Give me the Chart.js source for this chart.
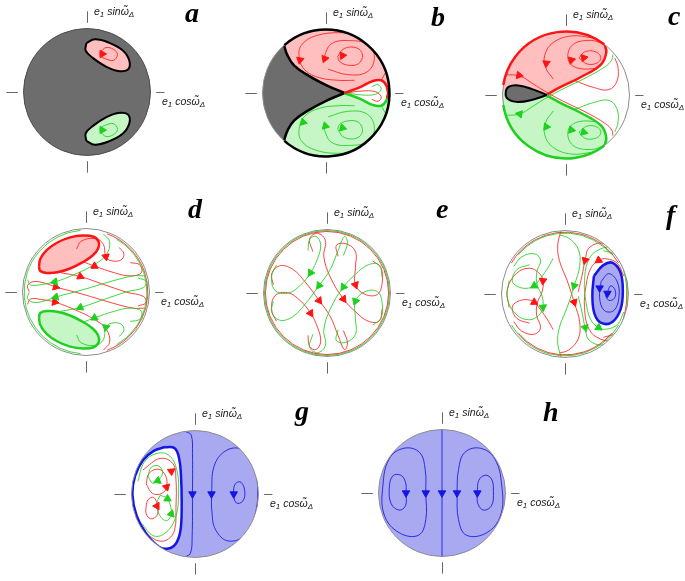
<!DOCTYPE html>
<html>
<head>
<meta charset="utf-8">
<title>phase portraits a-h</title>
<script src="https://cdn.jsdelivr.net/npm/chart.js@4.4.1/dist/chart.umd.min.js"></script>
<style>
  body { margin: 0; background: #fff; }
  #page { position: relative; width: 685px; height: 581px; overflow: hidden; font-family: "Liberation Sans", Arial, sans-serif; }
  .pane { position: absolute; width: 182px; height: 182px; }
  .lab { position: absolute; font-size: 10.5px; line-height: 12px; color: #1a1a1a; white-space: nowrap; font-style: italic; }
  .lab sub { font-size: 8px; line-height: 0; vertical-align: -2px; }
  .let { position: absolute; font: bold italic 28px/28px "Liberation Serif", "Times New Roman", serif; color: #000; }
</style>
</head>
<body>
<div id="page"></div>
<script>
// all curves in units of the disk radius (e1 cos w, e1 sin w)

// a
const aRedBlob = [[-0.01,0.77],[0.12,0.83],[0.34,0.78],[0.57,0.65],[0.67,0.48],[0.64,0.35],[0.49,0.33],[0.30,0.40],[0.10,0.53],[-0.02,0.65]];
const aRedLoop = [[0.21,0.63],[0.30,0.70],[0.42,0.67],[0.48,0.59],[0.42,0.50],[0.30,0.52],[0.21,0.57]];
const aGrnBlob = [[-0.01,-0.77],[0.12,-0.83],[0.34,-0.78],[0.57,-0.65],[0.67,-0.48],[0.64,-0.35],[0.49,-0.33],[0.30,-0.40],[0.10,-0.53],[-0.02,-0.65]];
const aGrnLoop = [[0.21,-0.63],[0.30,-0.70],[0.42,-0.67],[0.48,-0.59],[0.42,-0.50],[0.30,-0.52],[0.21,-0.57]];
const aRedHeads = [[0.24,0.6]], aRedDir = [210];
const aGrnHeads = [[0.24,-0.6]], aGrnDir = [330];

// b
const bSepUp = [[-0.66,0.75],[-0.61,0.6],[-0.5,0.43],[-0.27,0.27],[0.01,0.12],[0.29,0.0]];
const bSepDn = [[-0.66,-0.75],[-0.61,-0.6],[-0.5,-0.43],[-0.27,-0.27],[0.01,-0.12],[0.29,0.0]];
const bRedEdge = [[0.29,0.0],[0.53,0.09],[0.74,0.19],[0.87,0.2],[0.95,0.12],[0.98,0.0],[0.96,-0.08]];
const bGrnEdge = [[0.29,0.0],[0.53,-0.09],[0.74,-0.19],[0.87,-0.2],[0.95,-0.12],[0.98,0.0],[0.96,0.08]];
const bPink = [[-1.0,1.2],[-0.66,0.75],[-0.61,0.6],[-0.5,0.43],[-0.27,0.27],[0.01,0.12],[0.29,0.0],[0.53,0.09],[0.74,0.19],[0.87,0.2],[0.95,0.12],[0.99,0.02],[1.3,0.02],[1.3,1.3],[-1.0,1.3]];
const bGreen = [[-1.0,-1.2],[-0.66,-0.75],[-0.61,-0.6],[-0.5,-0.43],[-0.27,-0.27],[0.01,-0.12],[0.29,0.0],[0.53,-0.09],[0.74,-0.19],[0.87,-0.2],[0.95,-0.12],[0.99,-0.02],[1.3,-0.02],[1.3,-1.3],[-1.0,-1.3]];
const bLens = [[0.29,0],[0.53,0.09],[0.74,0.19],[0.87,0.2],[0.95,0.12],[0.98,0],[0.95,-0.12],[0.87,-0.2],[0.74,-0.19],[0.53,-0.09]];
const bRedIn = [[0.33,0.0],[0.55,0.03],[0.78,0.02],[0.87,-0.06],[0.82,-0.13],[0.72,-0.1]];
const bGrnIn = [[0.33,0.0],[0.55,-0.03],[0.78,-0.02],[0.87,0.06],[0.82,0.13],[0.72,0.1]];
const bRed1 = [[0.185,0.575],[0.285,0.70],[0.485,0.71],[0.575,0.60],[0.51,0.46],[0.335,0.44],[0.21,0.50]];
const bRed2 = [[-0.04,0.55],[0.085,0.775],[0.385,0.825],[0.685,0.75],[0.76,0.525],[0.635,0.325],[0.335,0.29],[0.035,0.375]];
const bRed3 = [[0.885,0.225],[0.96,0.40],[0.91,0.70],[0.685,0.90],[0.235,0.95],[-0.165,0.90],[-0.39,0.75],[-0.42,0.55],[-0.33,0.36],[-0.1,0.24],[0.2,0.2],[0.45,0.2]];
const bGrn1 = [[0.185,-0.575],[0.285,-0.70],[0.485,-0.71],[0.575,-0.60],[0.51,-0.46],[0.335,-0.44],[0.21,-0.50]];
const bGrn2 = [[-0.04,-0.55],[0.085,-0.775],[0.385,-0.825],[0.685,-0.75],[0.76,-0.525],[0.635,-0.325],[0.335,-0.29],[0.035,-0.375]];
const bGrn3 = [[0.885,-0.225],[0.96,-0.40],[0.91,-0.70],[0.685,-0.90],[0.235,-0.95],[-0.165,-0.90],[-0.39,-0.75],[-0.42,-0.55],[-0.33,-0.36],[-0.1,-0.24],[0.2,-0.2],[0.45,-0.2]];
const bRedHeads = [[-0.41,0.52],[-0.02,0.54],[0.26,0.59]], bRedDir = [190,200,205];
const bGrnHeads = [[-0.36,-0.46],[-0.01,-0.52],[0.26,-0.55]], bGrnDir = [225,225,225];

// c
const cPink = [[-0.30,0.01],[-0.06,0.14],[0.23,0.28],[0.55,0.48],[0.635,0.675],[0.60,0.82],[0.75,1.3],[-1.3,1.3],[-1.3,0.0],[-0.6,0.0]];
const cGreen = [[-0.30,-0.01],[-0.06,-0.14],[0.23,-0.28],[0.55,-0.48],[0.635,-0.675],[0.60,-0.82],[0.75,-1.3],[-1.3,-1.3],[-1.3,0.0],[-0.6,0.0]];
const cRedEdge = [[-0.30,0.01],[-0.06,0.14],[0.23,0.28],[0.55,0.48],[0.635,0.675],[0.60,0.82]];
const cGrnEdge = [[-0.30,-0.01],[-0.06,-0.14],[0.23,-0.28],[0.55,-0.48],[0.635,-0.675],[0.60,-0.82]];
const cBlob = [[-0.30,0.0],[-0.51,0.085],[-0.75,0.15],[-0.90,0.13],[-0.95,0.04],[-0.92,-0.06],[-0.76,-0.11],[-0.51,-0.07]];
const cRed1 = [[0.205,0.586],[0.305,0.685],[0.48,0.675],[0.55,0.586],[0.48,0.50],[0.33,0.49]];
const cRed2 = [[0.5,0.42],[0.2,0.42],[0.04,0.54],[0.085,0.77],[0.33,0.86],[0.58,0.80],[0.63,0.68]];
const cRed3 = [[-0.2,0.25],[-0.32,0.43],[-0.335,0.625],[-0.21,0.82],[0.085,0.93],[0.43,0.90]];
const cRedDiag = [[-0.95,0.32],[-0.73,0.30],[-0.51,0.17],[-0.30,0.04],[-0.02,-0.11],[0.33,-0.28],[0.62,-0.45],[0.72,-0.55],[0.74,-0.64]];
const cRedStrip = [[0.13,0.23],[0.43,0.12],[0.675,0.085],[0.80,0.21],[0.82,0.43],[0.77,0.58]];
const cGrn1 = [[0.205,-0.586],[0.305,-0.685],[0.48,-0.675],[0.55,-0.586],[0.48,-0.50],[0.33,-0.49]];
const cGrn2 = [[0.5,-0.42],[0.2,-0.42],[0.04,-0.54],[0.085,-0.77],[0.33,-0.86],[0.58,-0.80],[0.63,-0.68]];
const cGrn3 = [[-0.2,-0.25],[-0.32,-0.43],[-0.335,-0.625],[-0.21,-0.82],[0.085,-0.93],[0.43,-0.90]];
const cGrnDiag = [[-0.95,-0.32],[-0.73,-0.30],[-0.51,-0.17],[-0.30,-0.04],[-0.02,0.11],[0.33,0.28],[0.62,0.45],[0.72,0.55],[0.74,0.64]];
const cGrnStrip = [[0.13,-0.23],[0.43,-0.12],[0.675,-0.085],[0.80,-0.21],[0.82,-0.43],[0.77,-0.58]];
const cRedHeads = [[-0.31,0.50],[0.085,0.55],[0.28,0.586],[-0.74,0.31]], cRedDir = [185,195,200,100];
const cGrnHeads = [[-0.31,-0.50],[0.085,-0.55],[0.28,-0.586],[-0.73,-0.30]], cGrnDir = [215,220,225,280];

// d
const dPinkE = [[-0.74,0.40],[-0.72,0.52],[-0.62,0.66],[-0.45,0.78],[-0.25,0.86],[-0.05,0.89],[0.12,0.87],[0.2,0.79],[0.19,0.68],[0.1,0.57],[-0.05,0.47],[-0.25,0.37],[-0.45,0.31],[-0.62,0.30],[-0.72,0.33]];
const dGrnE = [[-0.74,-0.40],[-0.72,-0.52],[-0.62,-0.66],[-0.45,-0.78],[-0.25,-0.86],[-0.05,-0.89],[0.12,-0.87],[0.2,-0.79],[0.19,-0.68],[0.1,-0.57],[-0.05,-0.47],[-0.25,-0.37],[-0.45,-0.31],[-0.62,-0.30],[-0.72,-0.33]];
const dRa = [[-0.149,0.677],[-0.075,0.801],[0.149,0.841],[0.274,0.751],[0.313,0.557],[0.398,0.493],[0.547,0.502],[0.597,0.602],[0.522,0.701]];
const dRb = [[-0.05,0.478],[0.134,0.408],[0.448,0.303],[0.697,0.254],[0.871,0.303],[0.846,0.428],[0.697,0.463]];
const dRc = [[-0.398,0.303],[-0.09,0.244],[0.249,0.129],[0.647,-0.005],[0.905,-0.07],[0.945,-0.169],[0.821,-0.219]];
const dRd = [[-0.896,0.005],[-0.92,0.104],[-0.821,0.164],[-0.647,0.139],[-0.478,0.08],[-0.05,-0.035],[0.398,-0.169],[0.746,-0.254],[0.92,-0.254]];
const dRe = [[-0.92,-0.194],[-0.871,-0.109],[-0.697,-0.119],[-0.493,-0.159],[-0.199,-0.269],[0.149,-0.443],[0.323,-0.592],[0.373,-0.791],[0.274,-0.915]];
const dGa = [[-0.149,-0.677],[-0.075,-0.801],[0.149,-0.841],[0.274,-0.751],[0.313,-0.557],[0.398,-0.493],[0.547,-0.502],[0.597,-0.602],[0.522,-0.701]];
const dGb = [[-0.05,-0.478],[0.134,-0.408],[0.448,-0.303],[0.697,-0.254],[0.871,-0.303],[0.846,-0.428],[0.697,-0.463]];
const dGc = [[-0.398,-0.303],[-0.09,-0.244],[0.249,-0.129],[0.647,0.005],[0.905,0.07],[0.945,0.169],[0.821,0.219]];
const dGd = [[-0.896,-0.005],[-0.92,-0.104],[-0.821,-0.164],[-0.647,-0.139],[-0.478,-0.08],[-0.05,0.035],[0.398,0.169],[0.746,0.254],[0.92,0.254]];
const dGe = [[-0.92,0.194],[-0.871,0.109],[-0.697,0.119],[-0.493,0.159],[-0.199,0.269],[0.149,0.443],[0.323,0.592],[0.373,0.791],[0.274,0.915]];
const dRedHeads = [[0.313,0.557],[0.134,0.408],[-0.09,0.244],[-0.478,0.08],[-0.493,-0.159]], dRedDir = [170,120,115,105,100];
const dGrnHeads = [[0.313,-0.557],[0.134,-0.408],[-0.09,-0.244],[-0.478,-0.08],[-0.493,0.159]], dGrnDir = [190,240,245,255,260];

// e
const eR1 = [[-0.846,0.129],[-0.871,0.303],[-0.746,0.428],[-0.547,0.378],[-0.348,0.179],[-0.124,-0.119],[0.05,-0.368],[0.174,-0.667],[0.274,-0.891],[0.323,-0.791],[0.259,-0.592]];
const eR2 = [[-0.796,-0.443],[-0.871,-0.269],[-0.821,-0.045],[-0.622,0.005],[-0.423,-0.119],[-0.259,-0.318],[-0.149,-0.542],[-0.1,-0.766],[-0.174,-0.891],[-0.274,-0.841],[-0.299,-0.667]];
const eR3 = [[-0.224,0.652],[-0.274,0.851],[-0.149,0.94],[-0.025,0.826],[-0.05,0.577],[0.05,0.254],[0.259,-0.095],[0.448,-0.294],[0.647,-0.443],[0.821,-0.443],[0.871,-0.244]];
const eR4 = [[0.174,0.577],[0.149,0.751],[0.299,0.776],[0.448,0.652],[0.448,0.403],[0.448,0.129],[0.597,-0.02],[0.796,-0.02],[0.871,0.179],[0.846,0.403],[0.721,0.502]];
const eG1 = [[-0.846,-0.129],[-0.871,-0.303],[-0.746,-0.428],[-0.547,-0.378],[-0.348,-0.179],[-0.124,0.119],[0.05,0.368],[0.174,0.667],[0.274,0.891],[0.323,0.791],[0.259,0.592]];
const eG2 = [[-0.796,0.443],[-0.871,0.269],[-0.821,0.045],[-0.622,-0.005],[-0.423,0.119],[-0.259,0.318],[-0.149,0.542],[-0.1,0.766],[-0.174,0.891],[-0.274,0.841],[-0.299,0.667]];
const eG3 = [[-0.224,-0.652],[-0.274,-0.851],[-0.149,-0.94],[-0.025,-0.826],[-0.05,-0.577],[0.05,-0.254],[0.259,0.095],[0.448,0.294],[0.647,0.443],[0.821,0.443],[0.871,0.244]];
const eG4 = [[0.174,-0.577],[0.149,-0.751],[0.299,-0.776],[0.448,-0.652],[0.448,-0.403],[0.448,-0.129],[0.597,0.02],[0.796,0.02],[0.871,-0.179],[0.846,-0.403],[0.721,-0.502]];
const eRedHeads = [[-0.124,-0.119],[-0.259,-0.318],[0.259,-0.095],[0.448,0.129]], eRedDir = [144,147,144,161];
const eGrnHeads = [[-0.124,0.119],[-0.259,0.318],[0.259,0.095],[0.448,-0.129]], eGrnDir = [216,213,216,199];

// f
const fBlue = [[0.455,0.282],[0.604,0.455],[0.752,0.49],[0.876,0.332],[0.911,0.035],[0.876,-0.238],[0.752,-0.436],[0.579,-0.46],[0.465,-0.312],[0.431,-0.015]];
const fIn1 = [[0.57,0.2],[0.69,0.32],[0.82,0.2],[0.85,-0.05],[0.77,-0.26],[0.62,-0.26],[0.545,-0.06]];
const fIn2 = [[0.67,0.035],[0.72,0.13],[0.79,0.06],[0.78,-0.065],[0.69,-0.10],[0.64,-0.015]];
const fR1 = [[-0.881,-0.213],[-0.906,0.084],[-0.757,0.332],[-0.559,0.406],[-0.411,0.332],[-0.347,0.208],[-0.361,0.035],[-0.436,-0.139],[-0.446,-0.337],[-0.386,-0.535],[-0.485,-0.634],[-0.683,-0.584],[-0.807,-0.436]];
const fR2 = [[-0.188,-0.559],[-0.287,-0.386],[-0.411,-0.213],[-0.485,-0.129],[-0.609,-0.089],[-0.757,-0.124],[-0.832,-0.213],[-0.757,-0.386],[-0.559,-0.46]];
const fR3 = [[-0.064,0.99],[-0.114,0.777],[-0.089,0.53],[0.035,0.208],[0.144,-0.129],[0.233,-0.455],[0.208,-0.708],[0.059,-0.881],[-0.089,-0.931]];
const fR4 = [[0.208,0.035],[0.267,0.282],[0.317,0.53],[0.381,0.728],[0.604,0.802],[0.851,0.678],[0.95,0.431],[0.975,0.035],[0.926,-0.361],[0.802,-0.609],[0.604,-0.683]];
const fR5 = [[0.926,0.282],[0.827,0.48],[0.653,0.554],[0.53,0.53],[0.406,0.406],[0.332,0.134],[0.307,-0.213],[0.381,-0.559],[0.554,-0.708],[0.802,-0.757]];
const fG1 = [[-0.881,0.213],[-0.906,-0.084],[-0.757,-0.332],[-0.559,-0.406],[-0.411,-0.332],[-0.347,-0.208],[-0.361,-0.035],[-0.436,0.139],[-0.446,0.337],[-0.386,0.535],[-0.485,0.634],[-0.683,0.584],[-0.807,0.436]];
const fG2 = [[-0.188,0.559],[-0.287,0.386],[-0.411,0.213],[-0.485,0.129],[-0.609,0.089],[-0.757,0.124],[-0.832,0.213],[-0.757,0.386],[-0.559,0.46]];
const fG3 = [[-0.064,-0.99],[-0.114,-0.777],[-0.089,-0.53],[0.035,-0.208],[0.144,0.129],[0.233,0.455],[0.208,0.708],[0.059,0.881],[-0.089,0.931]];
const fG4 = [[0.208,-0.035],[0.267,-0.282],[0.317,-0.53],[0.381,-0.728],[0.604,-0.802],[0.851,-0.678],[0.95,-0.431],[0.975,-0.035],[0.926,0.361],[0.802,0.609],[0.604,0.683]];
const fG5 = [[0.926,-0.282],[0.827,-0.48],[0.653,-0.554],[0.53,-0.53],[0.406,-0.406],[0.332,-0.134],[0.307,0.213],[0.381,0.559],[0.554,0.708],[0.802,0.757]];
const fRedHeads = [[-0.347,0.208],[-0.485,-0.129],[0.317,0.53],[0.144,-0.129],[0.53,0.53]], fRedDir = [185,240,195,160,235];
const fGrnHeads = [[-0.347,-0.208],[-0.485,0.129],[0.317,-0.53],[0.144,0.129],[0.53,-0.53]], fGrnDir = [175,120,165,200,125];
const fBluHeads = [[0.545,0.094],[0.668,0.01]], fBluDir = [180,180];

// g
const gWhite = [[-0.47,0.74],[-0.32,0.72],[-0.25,0.56],[-0.22,0.28],[-0.21,-0.21],[-0.23,-0.58],[-0.30,-0.78],[-0.42,-0.86],[-0.57,-0.83],[-0.77,-0.62],[-0.92,-0.34],[-0.985,-0.015],[-0.945,0.28],[-0.82,0.53],[-0.65,0.68]];
const gVert = [[-0.15,0.985],[-0.06,0.93],[-0.04,0.635],[-0.04,-0.015],[-0.045,-0.665],[-0.07,-0.93],[-0.15,-0.99]];
const gBig = [[0.26,0.01],[0.30,0.435],[0.475,0.675],[0.725,0.71],[0.915,0.51],[0.985,0.135],[0.95,-0.315],[0.8,-0.64],[0.525,-0.74],[0.325,-0.565],[0.265,-0.265]];
const gSmall = [[0.6,0.01],[0.635,0.16],[0.725,0.185],[0.785,0.035],[0.75,-0.115],[0.65,-0.14]];
const gRedOut = [[-0.82,0.38],[-0.55,0.56],[-0.35,0.48],[-0.30,0.23],[-0.30,-0.21],[-0.32,-0.56],[-0.42,-0.71],[-0.57,-0.74],[-0.75,-0.64]];
const gRedL1 = [[-0.77,0.16],[-0.72,0.33],[-0.57,0.39],[-0.46,0.28],[-0.45,0.11],[-0.52,0.01],[-0.67,0.01]];
const gRedL2 = [[-0.77,-0.19],[-0.74,-0.09],[-0.65,-0.055],[-0.59,-0.19],[-0.6,-0.34],[-0.70,-0.39],[-0.77,-0.31]];
const gGrnOut = [[-0.9,0.2],[-0.8,0.5],[-0.6,0.64],[-0.4,0.6],[-0.28,0.35],[-0.26,0.0],[-0.3,-0.35],[-0.45,-0.6],[-0.65,-0.66],[-0.85,-0.45]];
const gGrnL1 = [[-0.74,0.28],[-0.69,0.42],[-0.57,0.44],[-0.51,0.33],[-0.587,0.209],[-0.67,0.17]];
const gGrnL2 = [[-0.55,-0.02],[-0.433,-0.075],[-0.373,-0.313],[-0.45,-0.42],[-0.56,-0.33],[-0.6,-0.15]];
const gRedHeads = [[-0.373,0.358],[-0.448,0.11],[-0.6,-0.19]], gRedDir = [175,165,150];
const gGrnHeads = [[-0.587,0.209],[-0.433,-0.075],[-0.373,-0.313]], gGrnDir = [10,0,20];
const gBluHeads = [[-0.04,0.0],[0.26,0.0],[0.61,0.0]], gBluDir = [180,180,180];

// h
const hVert = [[0,1],[0,-1]];
const hLeftBig = [[-0.255,0],[-0.265,0.37],[-0.355,0.64],[-0.6,0.705],[-0.83,0.54],[-0.93,0.125],[-0.91,-0.345],[-0.675,-0.625],[-0.37,-0.665],[-0.255,-0.42]];
const hLeftSmall = [[-0.565,0],[-0.575,0.17],[-0.65,0.28],[-0.775,0.27],[-0.83,0.075],[-0.8,-0.17],[-0.675,-0.27],[-0.575,-0.2]];
const hRightBig = [[0.235,0],[0.26,0.37],[0.36,0.64],[0.605,0.705],[0.83,0.54],[0.94,0.125],[0.925,-0.345],[0.705,-0.625],[0.385,-0.665],[0.26,-0.42]];
const hRightSmall = [[0.555,0],[0.58,0.2],[0.68,0.28],[0.78,0.22],[0.81,0.025],[0.78,-0.2],[0.655,-0.27],[0.565,-0.17]];
const hBluHeads = [[-0.567,0.0],[-0.256,0.0],[0,0.0],[0.236,0.0],[0.557,0.0]], hBluDir = [180,180,180,180,180];

// ---- styles ----
const GRAY = '#6d6d6d', PINK = '#ffbfbf', LGRN = '#c6f6c6', LBLU = '#a9a9f2';
const RED = '#ff1414', GRN = '#1fd01f', BLU = '#1515e6', BLK = '#000', RIM = '#8c8c8c';
const RED_T = 'rgba(255,20,20,0.8)', GRN_T = 'rgba(31,208,31,0.85)', BLU_T = 'rgba(21,21,230,0.85)';
const L = 1.35, SIZE = 182;

const pts = list => list.map(p => ({x: p[0], y: p[1]}));
const line = (list, color, w) => ({data: pts(list), borderColor: color, borderWidth: w || 1, tension: 0.4, fill: false, pointRadius: 0});
const loop = (list, color, w) => line(list.concat([list[0]]), color, w);
const area = (list, bg, color, w) => ({data: pts(list.concat([list[0]])), backgroundColor: bg, borderColor: color || 'rgba(0,0,0,0)', borderWidth: w || 0, tension: 0.4, fill: 'shape', pointRadius: 0});
const heads = (list, dir, color) => ({data: pts(list), showLine: false, pointStyle: 'triangle', pointRadius: 4.3, rotation: dir, backgroundColor: color, borderColor: color, borderWidth: 1});

// disk background, rim arcs and the four axis ticks, drawn through the scales
function diskPlugin(diskColor, rims) {
    return {
        id: 'disk',
        beforeDatasetsDraw(chart) {
            const {ctx, scales: {x, y}} = chart;
            const cx = x.getPixelForValue(0), cy = y.getPixelForValue(0);
            const r = x.getPixelForValue(1) - cx;
            ctx.save();
            ctx.beginPath();
            ctx.arc(cx, cy, r, 0, Math.PI * 2);
            ctx.fillStyle = diskColor;
            ctx.fill();
            ctx.clip();
        },
        afterDatasetsDraw(chart) {
            const {ctx, scales: {x, y}} = chart;
            ctx.restore();
            const cx = x.getPixelForValue(0), cy = y.getPixelForValue(0);
            const unit = x.getPixelForValue(1) - cx;
            rims.forEach(a => {
                ctx.beginPath();
                ctx.arc(cx, cy, unit * (a.r || 1), -a.from * Math.PI / 180, -a.to * Math.PI / 180, true);
                ctx.strokeStyle = a.color;
                ctx.lineWidth = a.width || 1;
                ctx.stroke();
            });
            ctx.save();
            ctx.strokeStyle = '#666';
            ctx.lineWidth = 1;
            const px = Math.round(cx) + 0.5, py = Math.round(cy) + 0.5;
            ctx.beginPath();
            ctx.moveTo(px, y.getPixelForValue(1.09)); ctx.lineTo(px, y.getPixelForValue(1.27));
            ctx.moveTo(px, y.getPixelForValue(-1.09)); ctx.lineTo(px, y.getPixelForValue(-1.27));
            ctx.moveTo(x.getPixelForValue(-1.09), py); ctx.lineTo(x.getPixelForValue(-1.27), py);
            ctx.moveTo(x.getPixelForValue(1.09), py); ctx.lineTo(x.getPixelForValue(1.22), py);
            ctx.stroke();
            ctx.restore();
        }
    };
}

const page = document.getElementById('page');
const SIN = '<i>e</i><sub>1</sub> sin\u03c9\u0303<sub>\u0394</sub>';
const COS = '<i>e</i><sub>1</sub> cos\u03c9\u0303<sub>\u0394</sub>';

function text(cls, html, left, top) {
    const d = document.createElement('div');
    d.className = cls;
    d.innerHTML = html;
    d.style.left = left + 'px';
    d.style.top = top + 'px';
    page.appendChild(d);
}

function panel(letter, cx, cy, lx, lbase, diskColor, rims, sets) {
    const div = document.createElement('div');
    div.className = 'pane';
    div.style.left = (cx - SIZE / 2) + 'px';
    div.style.top = (cy - SIZE / 2) + 'px';
    const cv = document.createElement('canvas');
    cv.width = SIZE; cv.height = SIZE;
    div.appendChild(cv);
    page.appendChild(div);
    new Chart(cv, {
        type: 'line',
        data: {datasets: sets.slice().reverse()},   // first in list = painted first
        options: {
            responsive: false,
            animation: false,
            events: [],
            layout: {padding: 0},
            scales: {
                x: {type: 'linear', min: -L, max: L, display: false},
                y: {type: 'linear', min: -L, max: L, display: false}
            },
            plugins: {legend: {display: false}, tooltip: {enabled: false}}
        },
        plugins: [diskPlugin(diskColor, rims)]
    });
    text('lab', SIN, cx + 7, cy - 87);
    text('lab', COS, cx + 75, cy + 3);
    text('let', letter, lx, lbase - 23.5);
}

const thinRim = {r: 1, from: 0, to: 360, color: RIM, width: 1};

panel('a', 87, 92, 185, 22, GRAY, [{r: 1, from: 0, to: 360, color: '#4d4d4d', width: 1}], [
    area(aRedBlob, PINK, BLK, 2),
    loop(aRedLoop, RED_T, 1),
    area(aGrnBlob, LGRN, BLK, 2),
    loop(aGrnLoop, GRN_T, 1),
    heads(aRedHeads, aRedDir, RED),
    heads(aGrnHeads, aGrnDir, GRN)
]);

panel('b', 326, 93, 431, 26, GRAY, [thinRim, {r: 1, from: -131, to: 131, color: BLK, width: 2.5}], [
    area(bPink, PINK),
    area(bGreen, LGRN),
    area(bLens, '#fff'),
    loop(bRed1, RED_T), line(bRed2, RED_T), line(bRed3, RED_T),
    loop(bGrn1, GRN_T), line(bGrn2, GRN_T), line(bGrn3, GRN_T),
    line(bRedIn, RED_T), line(bGrnIn, GRN_T),
    line(bSepUp, BLK, 2.5), line(bSepDn, BLK, 2.5),
    line(bGrnEdge, GRN, 2.5), line(bRedEdge, RED, 2.5),
    heads(bRedHeads, bRedDir, RED),
    heads(bGrnHeads, bGrnDir, GRN)
]);

panel('c', 566, 95, 668, 25, '#fff', [thinRim, {r: 1, from: 53, to: 171, color: RED, width: 2.5}, {r: 1, from: 189, to: 307, color: GRN, width: 2.5}], [
    area(cPink, PINK),
    area(cGreen, LGRN),
    loop(cRed1, RED_T), line(cRed2, RED_T), line(cRed3, RED_T), line(cRedDiag, RED_T), line(cRedStrip, RED_T),
    loop(cGrn1, GRN_T), line(cGrn2, GRN_T), line(cGrn3, GRN_T), line(cGrnDiag, GRN_T), line(cGrnStrip, GRN_T),
    area(cBlob, GRAY, BLK, 2),
    line(cRedEdge, RED, 2.5), line(cGrnEdge, GRN, 2.5),
    heads(cRedHeads, cRedDir, RED),
    heads(cGrnHeads, cGrnDir, GRN)
]);

panel('d', 86, 292, 188, 218, '#fff', [thinRim, {r: 0.975, from: 95, to: 265, color: GRN_T}, {r: 0.975, from: -70, to: 70, color: RED_T}, {r: 0.96, from: -60, to: 60, color: GRN_T}], [
    area(dPinkE, PINK), area(dGrnE, LGRN),
    line(dRa, RED_T), line(dRb, RED_T), line(dRc, RED_T), line(dRd, RED_T), line(dRe, RED_T),
    line(dGa, GRN_T), line(dGb, GRN_T), line(dGc, GRN_T), line(dGd, GRN_T), line(dGe, GRN_T),
    loop(dPinkE, RED, 2.5), loop(dGrnE, GRN, 2.5),
    heads(dRedHeads, dRedDir, RED),
    heads(dGrnHeads, dGrnDir, GRN)
]);

panel('e', 327, 293, 436, 218, '#fff', [thinRim, {r: 0.985, from: 0, to: 360, color: GRN_T}, {r: 0.97, from: 0, to: 360, color: RED_T}], [
    line(eR1, RED_T), line(eR2, RED_T), line(eR3, RED_T), line(eR4, RED_T),
    line(eG1, GRN_T), line(eG2, GRN_T), line(eG3, GRN_T), line(eG4, GRN_T),
    heads(eRedHeads, eRedDir, RED),
    heads(eGrnHeads, eGrnDir, GRN)
]);

panel('f', 565, 294, 666, 224, '#fff', [thinRim, {r: 0.975, from: 30, to: 150, color: RED_T}, {r: 0.96, from: 40, to: 140, color: GRN_T}, {r: 0.975, from: 210, to: 330, color: GRN_T}, {r: 0.96, from: 220, to: 320, color: RED_T}], [
    line(fR1, RED_T), line(fR2, RED_T), line(fR3, RED_T), line(fR4, RED_T), line(fR5, RED_T),
    line(fG1, GRN_T), line(fG2, GRN_T), line(fG3, GRN_T), line(fG4, GRN_T), line(fG5, GRN_T),
    area(fBlue, LBLU),
    loop(fIn1, BLU_T), loop(fIn2, BLU_T),
    loop(fBlue, BLU, 2.5),
    heads(fRedHeads, fRedDir, RED),
    heads(fGrnHeads, fGrnDir, GRN),
    heads(fBluHeads, fBluDir, BLU)
]);

panel('g', 195, 494, 295, 420, LBLU, [thinRim], [
    line(gVert, BLU_T), loop(gBig, BLU_T), loop(gSmall, BLU_T),
    area(gWhite, '#fff'),
    line(gRedOut, RED_T), loop(gRedL1, RED_T), loop(gRedL2, RED_T),
    line(gGrnOut, GRN_T), loop(gGrnL1, GRN_T), loop(gGrnL2, GRN_T),
    loop(gWhite, BLU, 2.5),
    heads(gRedHeads, gRedDir, RED),
    heads(gGrnHeads, gGrnDir, GRN),
    heads(gBluHeads, gBluDir, BLU)
]);

panel('h', 442, 493, 543, 421, LBLU, [thinRim], [
    line(hVert, BLU_T),
    loop(hLeftBig, BLU_T), loop(hLeftSmall, BLU_T),
    loop(hRightBig, BLU_T), loop(hRightSmall, BLU_T),
    heads(hBluHeads, hBluDir, BLU)
]);
</script>
</body>
</html>
